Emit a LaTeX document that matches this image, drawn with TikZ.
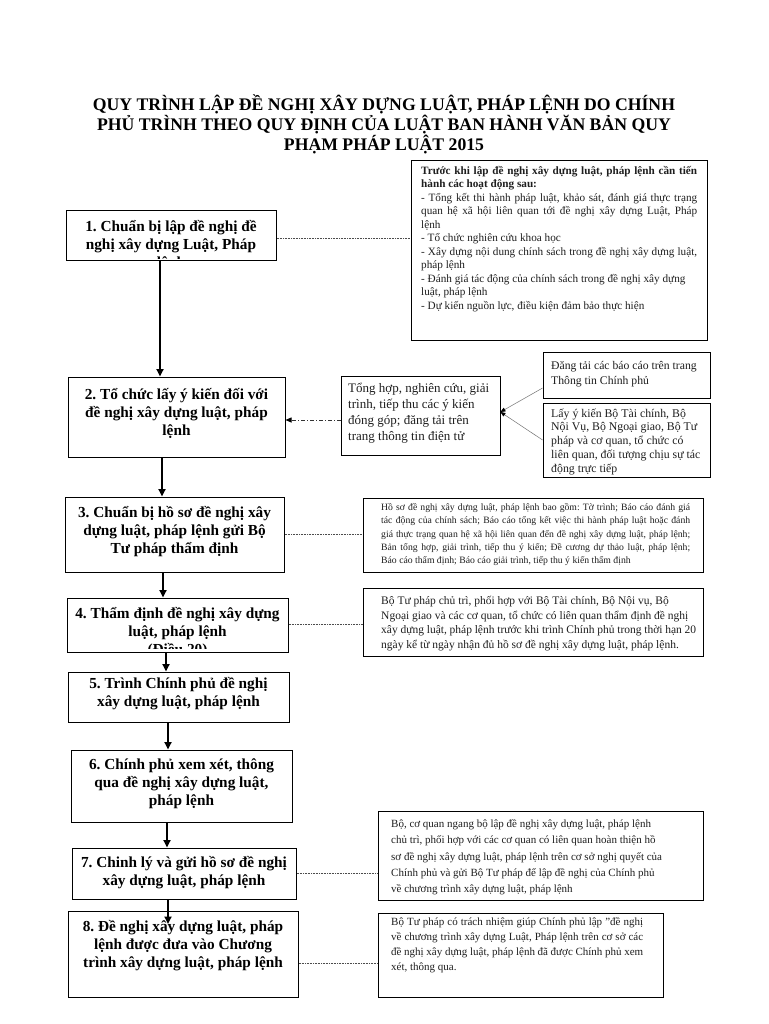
\documentclass[tikz,border=0pt]{standalone}
\usepackage{fontspec}
\setmainfont{Liberation Serif}
\usetikzlibrary{arrows.meta}
\newcommand\ctrline[1]{\hbox to \hsize{\hss#1\hss}}
\newcommand\jusline[1]{\hbox to \hsize{#1}}
\newcommand\ragline[1]{\hbox to \hsize{#1\hfil}}
\newcommand\txtblock[2]{\vtop{\hsize=#1\lineskiplimit=-\maxdimen\frenchspacing #2}}
\begin{document}
\begin{tikzpicture}[x=1pt,y=-1pt,
  mainbox/.style={draw=black,line width=1pt,inner sep=0pt},
  notebox/.style={draw=black,line width=0.8pt,inner sep=0pt},
  maintext/.style={inner sep=0pt,anchor=base,font=\fontsize{15.3}{18}\selectfont\bfseries},
  notetext/.style={inner sep=0pt,anchor=base west,text=black!88},
  flow/.style={line width=1.7pt,-{Triangle[length=7.5pt,width=7pt]}},
  dotconn/.style={line width=0.6pt,black!70,dash pattern=on 0.8pt off 0.8pt},
  dashdot/.style={line width=0.8pt,black!80,dash pattern=on 4pt off 2pt on 1pt off 2pt,-{Triangle[length=6pt,width=5pt,color=black]}},
  thinarrow/.style={line width=0.5pt,black!55,-{Triangle[length=5pt,width=4pt,color=black]}}]
\fill[white] (0,0) rectangle (768,1024);
\useasboundingbox (0,0) rectangle (768,1024);

% title
\node[inner sep=0pt,anchor=base,font=\fontsize{17.7}{20}\selectfont\bfseries] (title) at (384,111)
 {\txtblock{740pt}{\ctrline{QUY TRÌNH LẬP ĐỀ NGHỊ XÂY DỰNG LUẬT, PHÁP LỆNH DO CHÍNH}\ctrline{PHỦ TRÌNH THEO QUY ĐỊNH CỦA LUẬT BAN HÀNH VĂN BẢN QUY}\ctrline{PHẠM PHÁP LUẬT 2015}}};

% main boxes
\node[mainbox,minimum width=210pt,minimum height=49pt] (b1) at (171,235.5) {};
\begin{scope}
\clip (b1.north west) rectangle ([yshift=2.5pt]b1.south east);
\node[maintext] (t1) at (171,231.5) {\txtblock{240pt}{\ctrline{1. Chuẩn bị lập đề nghị đề}\ctrline{nghị xây dựng Luật, Pháp}\ctrline{lệnh}}};
\end{scope}

\node[mainbox,minimum width=217pt,minimum height=80pt] (b2) at (176.5,417) {};
\node[maintext] (t2) at (176.5,399) {\txtblock{240pt}{\ctrline{2. Tổ chức lấy ý kiến đối với}\ctrline{đề nghị xây dựng luật, pháp}\ctrline{lệnh}}};

\node[mainbox,minimum width=219pt,minimum height=75pt] (b3) at (174.5,534.5) {};
\node[maintext] (t3) at (174.5,517.5) {\txtblock{240pt}{\ctrline{3. Chuẩn bị hồ sơ đề nghị xây}\ctrline{dựng luật, pháp lệnh gửi Bộ}\ctrline{Tư pháp thẩm định}}};

\node[mainbox,minimum width=221pt,minimum height=54pt] (b4) at (177.5,625) {};
\begin{scope}
\clip (b4.north west) rectangle ([yshift=4.5pt]b4.south east);
\node[maintext] (t4) at (177.5,618.5) {\txtblock{240pt}{\ctrline{4. Thẩm định đề nghị xây dựng}\ctrline{luật, pháp lệnh}\ctrline{(Điều 20)}}};
\end{scope}

\node[mainbox,minimum width=221pt,minimum height=50pt] (b5) at (178.5,697) {};
\node[maintext] (t5) at (178.5,688.5) {\txtblock{240pt}{\ctrline{5. Trình Chính phủ đề nghị}\ctrline{xây dựng luật, pháp lệnh}}};

\node[mainbox,minimum width=221pt,minimum height=72pt] (b6) at (181.5,786) {};
\node[maintext] (t6) at (181.5,769.5) {\txtblock{240pt}{\ctrline{6. Chính phủ xem xét, thông}\ctrline{qua đề nghị xây dựng luật,}\ctrline{pháp lệnh}}};

\node[mainbox,minimum width=224pt,minimum height=51pt] (b7) at (184,873.5) {};
\node[maintext] (t7) at (184,867.5) {\txtblock{240pt}{\ctrline{7. Chinh lý và gửi hồ sơ đề nghị}\ctrline{xây dựng luật, pháp lệnh}}};

\node[mainbox,minimum width=230pt,minimum height=86pt] (b8) at (183,954) {};
\node[maintext] (t8) at (183,931.5) {\txtblock{240pt}{\ctrline{8. Đề nghị xây dựng luật, pháp}\ctrline{lệnh được đưa vào Chương}\ctrline{trình xây dựng luật, pháp lệnh}}};

% notes
\node[notebox,minimum width=296pt,minimum height=180pt] (n1) at (559,250) {};
\node[notetext,font=\fontsize{11.2}{13.5}\selectfont] (n1t) at (421,174.5) {\txtblock{276pt}{%
\jusline{\bfseries Trước khi lập đề nghị xây dựng luật, pháp lệnh cần tiến}%
\ragline{\bfseries hành các hoạt động sau:}%
\jusline{- Tổng kết thi hành pháp luật, khảo sát, đánh giá thực trạng}%
\jusline{quan hệ xã hội liên quan tới đề nghị xây dựng Luật, Pháp}%
\ragline{lệnh}%
\ragline{- Tổ chức nghiên cứu khoa học}%
\jusline{- Xây dựng nội dung chính sách trong đề nghị xây dựng luật,}%
\ragline{pháp lệnh}%
\ragline{- Đánh giá tác động của chính sách trong đề nghị xây dựng}%
\ragline{luật, pháp lệnh}%
\ragline{- Dự kiến nguồn lực, điều kiện đảm bảo thực hiện}}};

\node[notebox,minimum width=159pt,minimum height=79pt] (n2) at (420.5,415.5) {};
\node[notetext,font=\fontsize{13}{16}\selectfont] (n2t) at (348,392) {\txtblock{150pt}{%
\ragline{Tổng hợp, nghiên cứu, giải}%
\ragline{trình, tiếp thu các ý kiến}%
\ragline{đóng góp; đăng tải trên}%
\ragline{trang thông tin điện tử}}};

\node[notebox,minimum width=167pt,minimum height=46pt] (n3) at (626.5,375) {};
\node[notetext,font=\fontsize{11.7}{15}\selectfont] (n3t) at (551,369.5) {\txtblock{155pt}{%
\ragline{Đăng tải các báo cáo trên trang}%
\ragline{Thông tin Chính phủ}}};

\node[notebox,minimum width=167pt,minimum height=74pt] (n4) at (626.5,440) {};
\node[notetext,font=\fontsize{11.8}{13.8}\selectfont] (n4t) at (551,417) {\txtblock{155pt}{%
\ragline{Lấy ý kiến Bộ Tài chính, Bộ}%
\ragline{Nội Vụ, Bộ Ngoại giao, Bộ Tư}%
\ragline{pháp và cơ quan, tổ chức có}%
\ragline{liên quan, đối tượng chịu sự tác}%
\ragline{động trực tiếp}}};

\node[notebox,minimum width=340pt,minimum height=74pt] (n5) at (533,535) {};
\node[notetext,font=\fontsize{9.7}{13.3}\selectfont] (n5t) at (381,510.5) {\txtblock{309pt}{%
\jusline{Hồ sơ đề nghị xây dựng luật, pháp lệnh bao gồm: Tờ trình; Báo cáo đánh giá}%
\jusline{tác động của chính sách; Báo cáo tổng kết việc thi hành pháp luật hoặc đánh}%
\jusline{giá thực trạng quan hệ xã hội liên quan đến đề nghị xây dựng luật, pháp lệnh;}%
\jusline{Bản tổng hợp, giải trình, tiếp thu ý kiến; Đề cương dự thảo luật, pháp lệnh;}%
\ragline{Báo cáo thẩm định; Báo cáo giải trình, tiếp thu ý kiến thẩm định}}};

\node[notebox,minimum width=340pt,minimum height=68pt] (n6) at (533,622) {};
\node[notetext,font=\fontsize{11.5}{14.5}\selectfont] (n6t) at (381,604.5) {\txtblock{315pt}{%
\ragline{Bộ Tư pháp chủ trì, phối hợp với Bộ Tài chính, Bộ Nội vụ, Bộ}%
\ragline{Ngoại giao và các cơ quan, tổ chức có liên quan thẩm định đề nghị}%
\ragline{xây dựng luật, pháp lệnh trước khi trình Chính phủ trong thời hạn 20}%
\ragline{ngày kể từ ngày nhận đủ hồ sơ đề nghị xây dựng luật, pháp lệnh.}}};

\node[notebox,minimum width=325pt,minimum height=89pt] (n7) at (540.5,855.5) {};
\node[notetext,font=\fontsize{11}{16.3}\selectfont] (n7t) at (391,827.5) {\txtblock{300pt}{%
\ragline{Bộ, cơ quan ngang bộ lập đề nghị xây dựng luật, pháp lệnh}%
\ragline{chủ trì, phối hợp với các cơ quan có liên quan hoàn thiện hồ}%
\ragline{sơ đề nghị xây dựng luật, pháp lệnh trên cơ sở nghị quyết của}%
\ragline{Chính phủ và gửi Bộ Tư pháp để lập đề nghị của Chính phủ}%
\ragline{về chương trình xây dựng luật, pháp lệnh}}};

\node[notebox,minimum width=285pt,minimum height=84pt] (n8) at (520.5,955) {};
\node[notetext,font=\fontsize{11}{15}\selectfont] (n8t) at (391,925.5) {\txtblock{252pt}{%
\jusline{Bộ Tư pháp có trách nhiệm giúp Chính phủ lập "đề nghị}%
\jusline{về chương trình xây dựng Luật, Pháp lệnh trên cơ sở các}%
\jusline{đề nghị xây dựng luật, pháp lệnh đã được Chính phủ xem}%
\ragline{xét, thông qua.}}};

% flow arrows
\coordinate (b8in) at (168,924);
\draw[flow] (160,0 |- b1.south) -- (160,0 |- b2.north);
\draw[flow] (162,0 |- b2.south) -- (162,0 |- b3.north);
\draw[flow] (163,0 |- b3.south) -- (163,0 |- b4.north);
\draw[flow] (166,0 |- b4.south) -- (166,0 |- b5.north);
\draw[flow] (168,0 |- b5.south) -- (168,0 |- b6.north);
\draw[flow] (167,0 |- b6.south) -- (167,0 |- b7.north);
\draw[flow] (168,0 |- b7.south) -- (b8in);

% side connectors
\draw[dotconn] (b1.east |- 0,238) -- (n1.west |- 0,238);
\draw[dotconn] (b3.east |- 0,534) -- (n5.west |- 0,534);
\draw[dotconn] (b4.east |- 0,624) -- (n6.west |- 0,624);
\draw[dotconn] (b7.east |- 0,873) -- (n7.west |- 0,873);
\draw[dotconn] (b8.east |- 0,963) -- (n8.west |- 0,963);
\draw[dashdot] (n2.west |- 0,420) -- (b2.east |- 0,420);
\draw[thinarrow] (n3.west |- 0,388) -- (n2.east |- 0,412);
\draw[thinarrow] (n4.west |- 0,440) -- (n2.east |- 0,412);
\end{tikzpicture}
\end{document}
